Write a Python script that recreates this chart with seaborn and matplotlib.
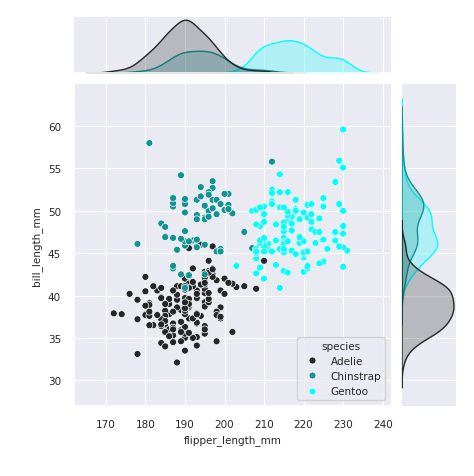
import numpy as np
import pandas as pd
import matplotlib
matplotlib.use('Agg')
import matplotlib.pyplot as plt
import seaborn as sns

# точки (flipper_length_mm, bill_length_mm)
adelie = [(181, 39.1), (186, 39.5), (195, 40.3), (193, 36.7), (190, 39.3), (181, 38.9), (195, 39.2), (193, 34.1),
          (190, 42.0), (186, 37.8), (180, 37.8), (182, 41.1), (191, 38.6), (198, 34.6), (185, 36.6), (195, 38.7),
          (197, 42.5), (184, 34.4), (194, 46.0), (174, 37.8), (180, 37.7), (189, 35.9), (185, 38.2), (180, 38.8),
          (187, 35.3), (183, 40.6), (187, 40.5), (172, 37.9), (180, 40.5), (178, 39.5), (178, 37.2), (188, 39.5),
          (184, 40.9), (195, 36.4), (196, 39.2), (190, 38.8), (180, 42.2), (181, 37.6), (184, 39.8), (182, 36.5),
          (195, 40.8), (186, 36.0), (196, 44.1), (185, 37.0), (190, 39.6), (182, 41.1), (190, 36.0), (191, 42.3),
          (186, 39.6), (188, 40.1), (190, 35.0), (200, 42.0), (187, 34.5), (191, 41.4), (186, 39.0), (193, 40.6),
          (181, 36.5), (194, 37.6), (185, 35.7), (195, 41.3), (185, 37.6), (192, 41.1), (184, 36.4), (192, 41.6),
          (195, 35.5), (188, 41.1), (190, 35.9), (198, 41.8), (190, 33.5), (190, 39.7), (196, 39.6), (197, 45.8),
          (190, 35.5), (195, 42.8), (191, 40.9), (184, 37.2), (187, 36.2), (195, 42.1), (189, 34.6), (196, 42.9),
          (187, 36.7), (193, 35.1), (191, 37.3), (194, 41.3), (190, 36.3), (189, 36.9), (189, 38.3), (190, 38.9),
          (202, 35.7), (205, 41.1), (185, 34.0), (186, 39.6), (187, 36.2), (208, 40.8), (190, 38.1), (196, 40.3),
          (178, 33.1), (192, 43.2), (192, 35.0), (203, 41.0), (183, 37.7), (190, 37.8), (193, 37.9), (184, 39.7),
          (199, 38.6), (190, 38.2), (181, 38.1), (197, 43.2), (198, 38.1), (191, 45.6), (193, 39.7), (197, 42.2),
          (191, 39.6), (196, 42.7), (188, 38.6), (199, 37.3), (189, 35.7), (189, 41.1), (187, 36.2), (198, 37.7),
          (176, 40.2), (202, 41.4), (186, 35.2), (199, 40.6), (191, 38.8), (195, 41.5), (191, 39.0), (210, 44.1),
          (190, 38.5), (197, 43.1), (193, 36.8), (199, 37.5), (187, 38.1), (190, 41.1), (191, 35.6), (200, 40.2),
          (185, 37.0), (193, 39.7), (193, 40.2), (187, 40.6), (188, 32.1), (190, 40.7), (192, 37.3), (185, 39.0),
          (190, 39.2), (184, 36.6), (195, 36.0), (193, 37.8), (187, 36.0), (201, 41.5)]
chinstrap = [(192, 46.5), (196, 50.0), (193, 51.3), (188, 45.4), (197, 52.7), (198, 45.2), (178, 46.1), (197, 51.3),
             (195, 46.0), (198, 51.3), (193, 46.6), (194, 51.7), (185, 47.0), (201, 52.0), (190, 45.9), (201, 50.5),
             (197, 50.3), (181, 58.0), (190, 46.4), (195, 49.2), (191, 42.4), (184, 48.5), (187, 43.2), (195, 50.6),
             (189, 46.7), (196, 52.0), (187, 50.5), (193, 49.5), (191, 46.4), (194, 52.8), (190, 40.9), (189, 54.2),
             (189, 42.5), (190, 51.0), (202, 49.7), (205, 47.5), (190, 47.6), (200, 52.0), (185, 46.9), (197, 53.5),
             (195, 49.0), (210, 46.2), (190, 50.9), (199, 45.5), (187, 50.9), (190, 50.8), (200, 50.1), (193, 49.0),
             (187, 51.5), (190, 49.8), (185, 48.1), (190, 51.4), (193, 45.7), (201, 50.7), (195, 42.5), (196, 52.2),
             (199, 45.2), (196, 49.3), (208, 50.2), (207, 45.6), (196, 51.9), (187, 46.8), (193, 45.7), (212, 55.8),
             (187, 43.5), (198, 49.6), (199, 50.8), (201, 50.2)]
gentoo = [(211, 46.1), (230, 50.0), (210, 48.7), (218, 50.0), (215, 47.6), (210, 46.5), (211, 45.4), (219, 46.7),
          (209, 43.3), (215, 46.8), (214, 40.9), (216, 49.0), (214, 45.5), (213, 48.4), (210, 45.8), (217, 49.3),
          (210, 42.0), (221, 49.2), (209, 46.2), (222, 48.7), (218, 50.2), (215, 45.1), (213, 46.5), (215, 46.3),
          (215, 42.9), (215, 46.1), (220, 44.5), (222, 47.8), (209, 48.2), (207, 50.0), (230, 47.3), (220, 42.8),
          (220, 45.1), (230, 59.6), (219, 49.1), (208, 48.4), (208, 42.6), (208, 44.4), (225, 44.0), (210, 48.7),
          (216, 42.7), (222, 49.6), (217, 45.3), (210, 49.6), (225, 50.5), (213, 43.6), (215, 45.5), (210, 50.5),
          (220, 44.9), (210, 45.2), (225, 46.6), (217, 48.5), (220, 45.1), (208, 50.1), (220, 46.5), (208, 45.0),
          (224, 43.8), (208, 45.5), (221, 43.2), (214, 50.4), (231, 45.3), (219, 46.2), (230, 45.7), (214, 54.3),
          (229, 45.8), (220, 49.8), (223, 46.2), (216, 49.5), (221, 43.5), (221, 50.7), (217, 47.7), (216, 46.4),
          (230, 48.2), (209, 46.5), (220, 46.4), (215, 48.6), (223, 47.5), (212, 51.1), (221, 45.2), (212, 45.2),
          (224, 49.1), (212, 52.5), (228, 47.4), (218, 50.0), (218, 44.9), (212, 50.8), (230, 43.4), (218, 51.3),
          (228, 47.5), (212, 52.1), (224, 47.5), (214, 52.2), (226, 45.5), (216, 49.9), (222, 50.8), (203, 43.5),
          (225, 51.5), (219, 46.9), (228, 53.4), (215, 48.1), (228, 46.5), (215, 50.4), (210, 46.8), (219, 49.0),
          (208, 45.2), (209, 50.4), (216, 52.2), (229, 55.9), (230, 55.1), (229, 50.8)]

rows = []
for name, pts in [('Adelie', adelie), ('Chinstrap', chinstrap), ('Gentoo', gentoo)]:
    for f, b in pts:
        rows.append({'species': name, 'flipper_length_mm': f, 'bill_length_mm': b})
df = pd.DataFrame(rows)

sns.set_theme(style='darkgrid', rc={'grid.linewidth': 0.8})
palette = sns.dark_palette('cyan', 3)
g = sns.jointplot(data=df, x='flipper_length_mm', y='bill_length_mm', hue='species',
                  palette=palette, height=4.75, xlim=(162, 242), ylim=(27, 65),
                  joint_kws={'s': 25, 'linewidth': 0.5})
g.ax_joint.set_xticks(range(170, 241, 10))
g.ax_joint.set_yticks(range(30, 61, 5))
g.ax_joint.tick_params(labelsize=7.5)
g.ax_joint.xaxis.label.set_size(7.5)
g.ax_joint.yaxis.label.set_size(7.5)
sns.move_legend(g.ax_joint, 'lower right', fontsize=7.5, title_fontsize=7.5)
g.figure.set_size_inches(4.74, 4.77)
plt.savefig('out.png', dpi=100)
